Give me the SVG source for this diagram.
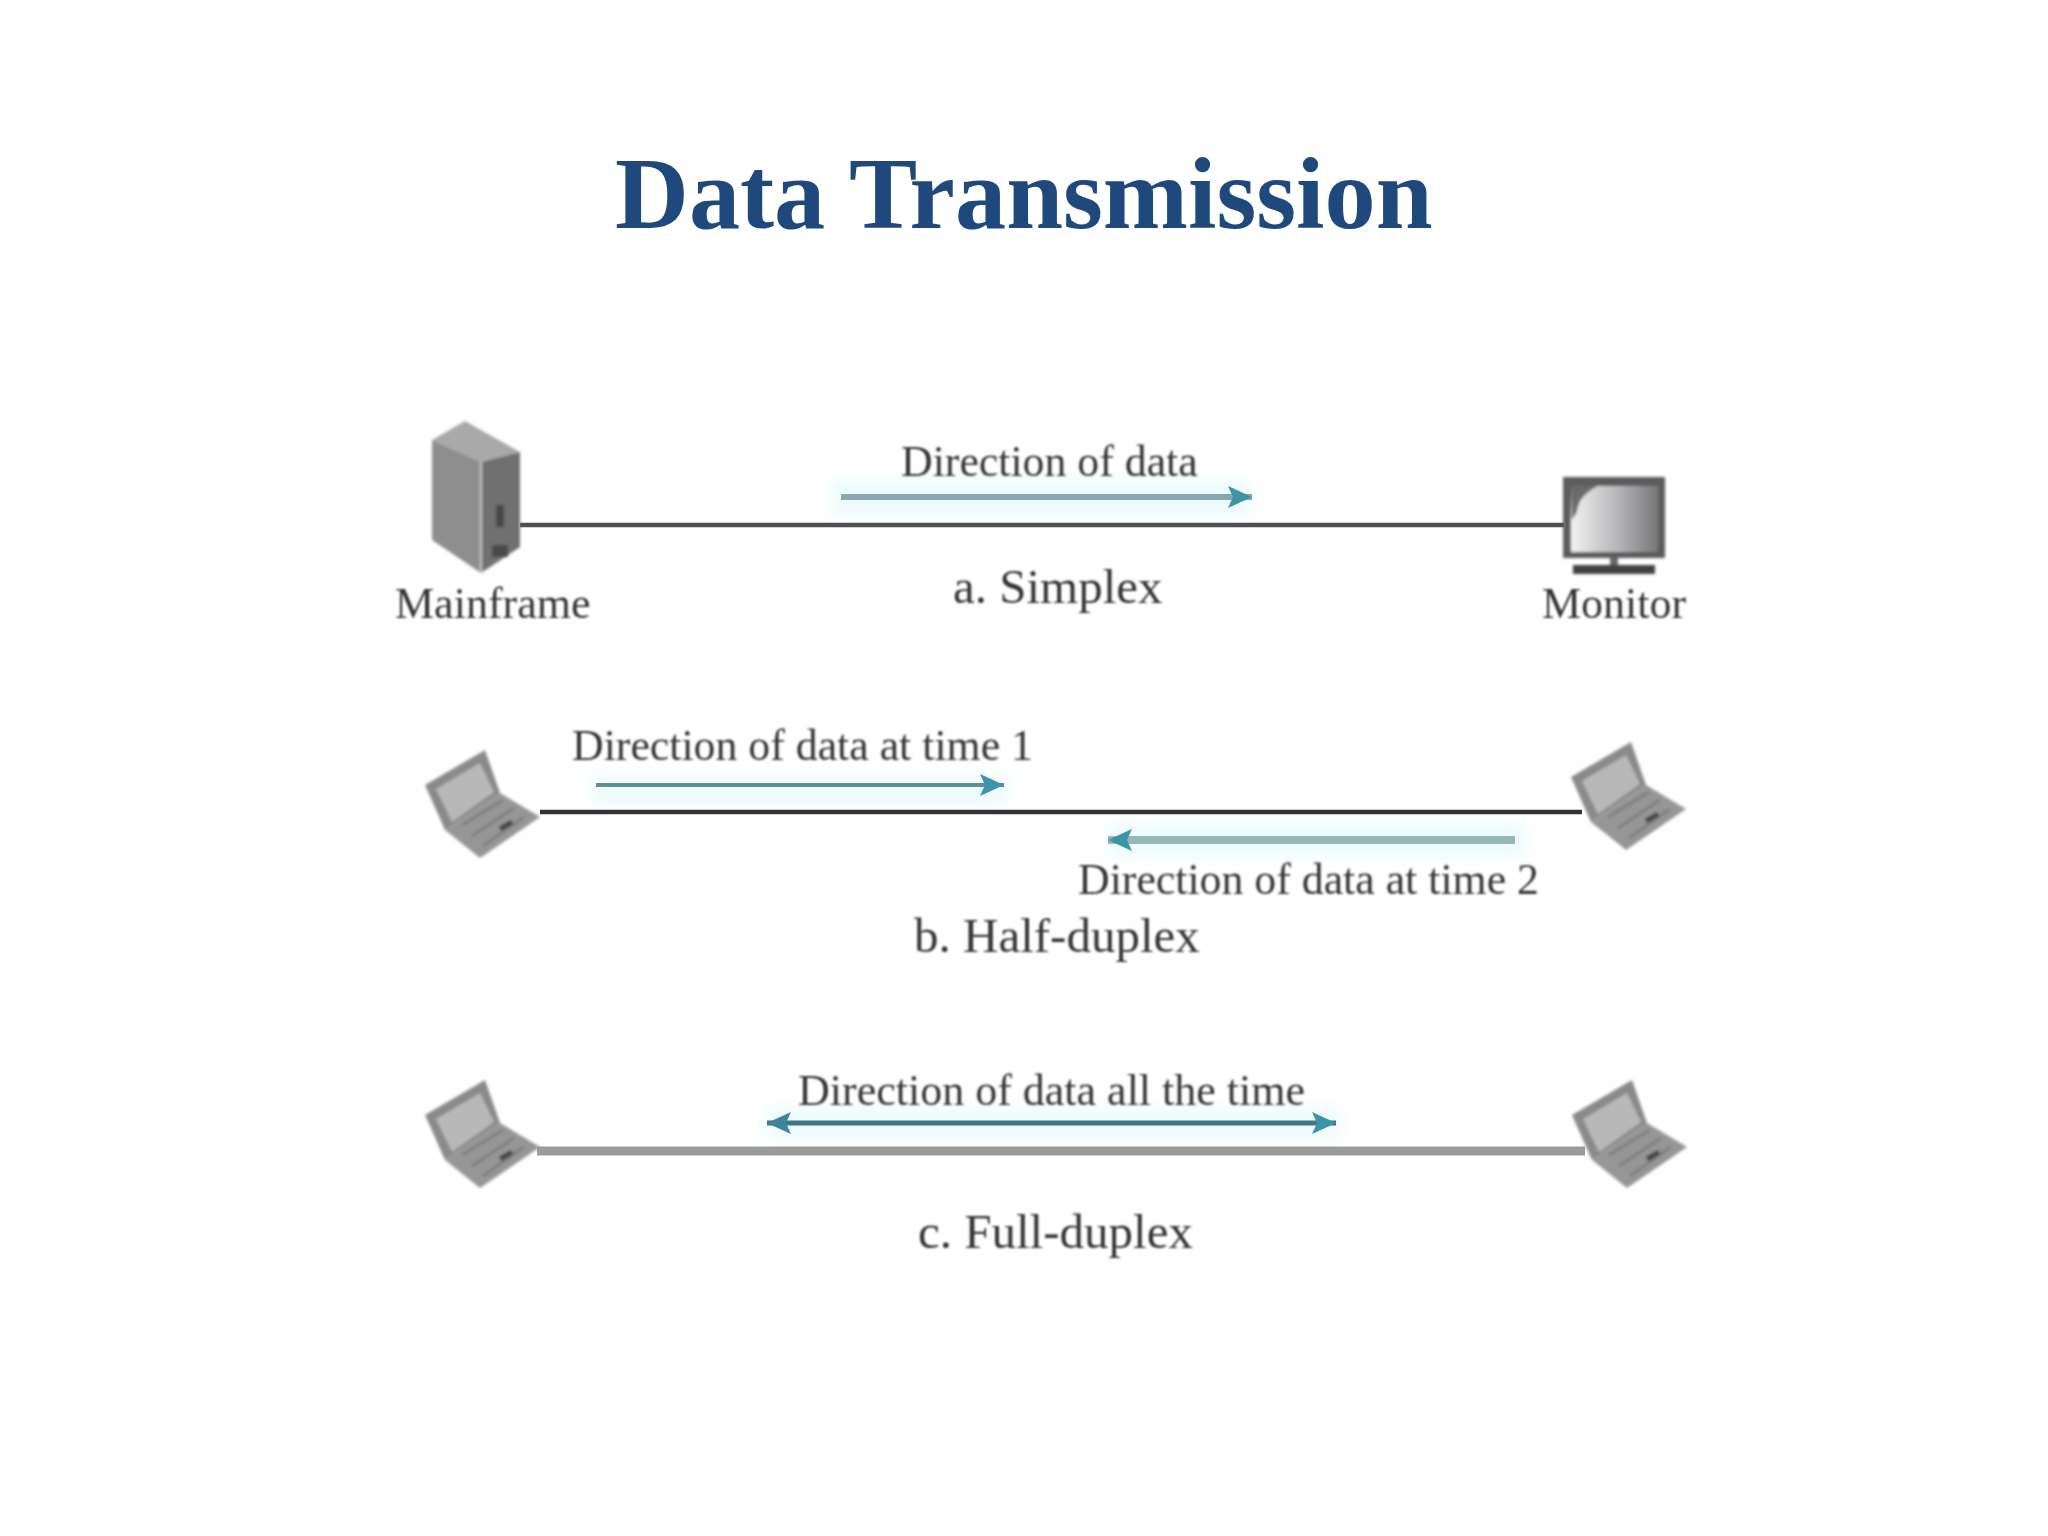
<svg xmlns="http://www.w3.org/2000/svg" xmlns:xlink="http://www.w3.org/1999/xlink" width="2048" height="1536" viewBox="0 0 2048 1536">
<style>
text{font-family:"Liberation Serif","Times New Roman",serif;fill:#363636}
.title{font-size:102.3px;font-weight:bold;fill:#1f497d}
.lab{font-size:43.8px}
.cap{font-size:49px}
.nm{font-size:44px}
.blurred{filter:url(#soft)}
.icon{filter:url(#softer)}
.halo{fill:#eefbfd;filter:url(#glow)}
.arrow{fill:none}
</style>
<defs>
<filter id="soft" x="-10%" y="-30%" width="120%" height="160%"><feGaussianBlur stdDeviation="1.1"/></filter>
<filter id="softer" x="-20%" y="-20%" width="140%" height="140%"><feGaussianBlur stdDeviation="1.8"/></filter>
<filter id="glow" x="-10%" y="-60%" width="120%" height="220%"><feGaussianBlur stdDeviation="7"/></filter>
<marker id="headEnd" markerUnits="userSpaceOnUse" markerWidth="34" markerHeight="28" refX="28" refY="14" orient="auto"><path d="M4,3 L28,14 L4,25 L9,14 Z" fill="#3d93a8"/></marker>
<marker id="headStart" markerUnits="userSpaceOnUse" markerWidth="34" markerHeight="28" refX="6" refY="14" orient="auto"><path d="M30,3 L6,14 L30,25 L25,14 Z" fill="#3d8598"/></marker>
<linearGradient id="screen" x1="0" x2="1" y1="0" y2="0"><stop offset="0" stop-color="#f2f2f2"/><stop offset="0.55" stop-color="#b4b4b8"/><stop offset="1" stop-color="#77777a"/></linearGradient>
<g id="laptop">
<polygon points="485,750 425,785 445,830 500,793" fill="#8a8a8a"/>
<polygon points="480,763 436,789 452,822 494,792" fill="#b8b8b8"/>
<polygon points="500,793 540,817 480,858 445,830" fill="#969696"/>
<path d="M462,825 L503,800 M472,836 L514,808 M483,846 L524,817" stroke="#808080" stroke-width="3" fill="none"/>
<path d="M500,829 L512,822" stroke="#444" stroke-width="5"/>
</g>
</defs>
<rect width="2048" height="1536" fill="#ffffff"/>
<text class="title" x="615" y="228">Data Transmission</text>

<g id="halos">
<rect class="halo" x="830" y="478" width="420" height="40"/>
<rect class="halo" x="590" y="775" width="420" height="30"/>
<rect class="halo" x="1110" y="822" width="415" height="36"/>
<rect class="halo" x="765" y="1108" width="575" height="32"/>
</g>

<g id="connectors">
<line x1="520" y1="525" x2="1564" y2="525" stroke="#4f4f4f" stroke-width="4.5"/>
<line x1="540" y1="812" x2="1582" y2="812" stroke="#333333" stroke-width="4.5"/>
<line x1="537" y1="1151" x2="1585" y2="1151" stroke="#9a9c98" stroke-width="9"/>
<line class="arrow" x1="841" y1="497" x2="1252" y2="497" stroke="#8aa6ae" stroke-width="6" marker-end="url(#headEnd)"/>
<line class="arrow" x1="596" y1="785" x2="1004" y2="785" stroke="#5f9098" stroke-width="4" marker-end="url(#headEnd)"/>
<line class="arrow" x1="1515" y1="840" x2="1108" y2="840" stroke="#93b8b6" stroke-width="8" marker-end="url(#headEnd)"/>
<line class="arrow" x1="767" y1="1123" x2="1336" y2="1123" stroke="#3f7682" stroke-width="5" marker-start="url(#headStart)" marker-end="url(#headEnd)"/>
</g>

<g id="mainframe">
<g class="icon">
<polygon points="465,421 432,440 481,462 520,452" fill="#a9a9a9"/>
<polygon points="432,440 481,462 481,573 432,540" fill="#8e8e8e"/>
<polygon points="481,462 520,452 520,547 481,573" fill="#6f6f6f"/>
<path d="M481,462 V573" stroke="#c4c4c4" stroke-width="2"/>
<rect x="496" y="505" width="8" height="22" fill="#444"/>
<rect x="492" y="545" width="16" height="12" fill="#4a4a4a"/>
</g>
<text class="nm blurred" x="395" y="618">Mainframe</text>
</g>

<g id="monitor">
<g class="icon">
<rect x="1563" y="477" width="102" height="81" fill="#5c5c5c"/>
<rect x="1571" y="486" width="87" height="66" fill="url(#screen)"/>
<path d="M1571,486 H1598 C1586,492 1578,500 1577,512 L1572,520 Z" fill="#6a6a6a"/>
<rect x="1610" y="558" width="8" height="8" fill="#666"/>
<rect x="1573" y="565" width="82" height="9" fill="#3f3f3f"/>
</g>
<text class="nm blurred" x="1542" y="618">Monitor</text>
</g>

<g id="laptop-b-left"><use xlink:href="#laptop" class="icon"/></g>
<g id="laptop-b-right"><use xlink:href="#laptop" class="icon" transform="translate(1146,-8)"/></g>
<g id="laptop-c-left"><use xlink:href="#laptop" class="icon" transform="translate(0,330)"/></g>
<g id="laptop-c-right"><use xlink:href="#laptop" class="icon" transform="translate(1147,330)"/></g>

<g id="labels" class="blurred">
<text class="lab" x="901" y="476">Direction of data</text>
<text class="cap" x="953" y="603">a. Simplex</text>
<text class="lab" x="572" y="760">Direction of data at time 1</text>
<text class="lab" x="1078" y="894">Direction of data at time 2</text>
<text class="cap" x="914" y="952">b. Half-duplex</text>
<text class="lab" x="798" y="1105" style="font-size:44px">Direction of data all the time</text>
<text class="cap" x="918" y="1248">c. Full-duplex</text>
</g>
</svg>
